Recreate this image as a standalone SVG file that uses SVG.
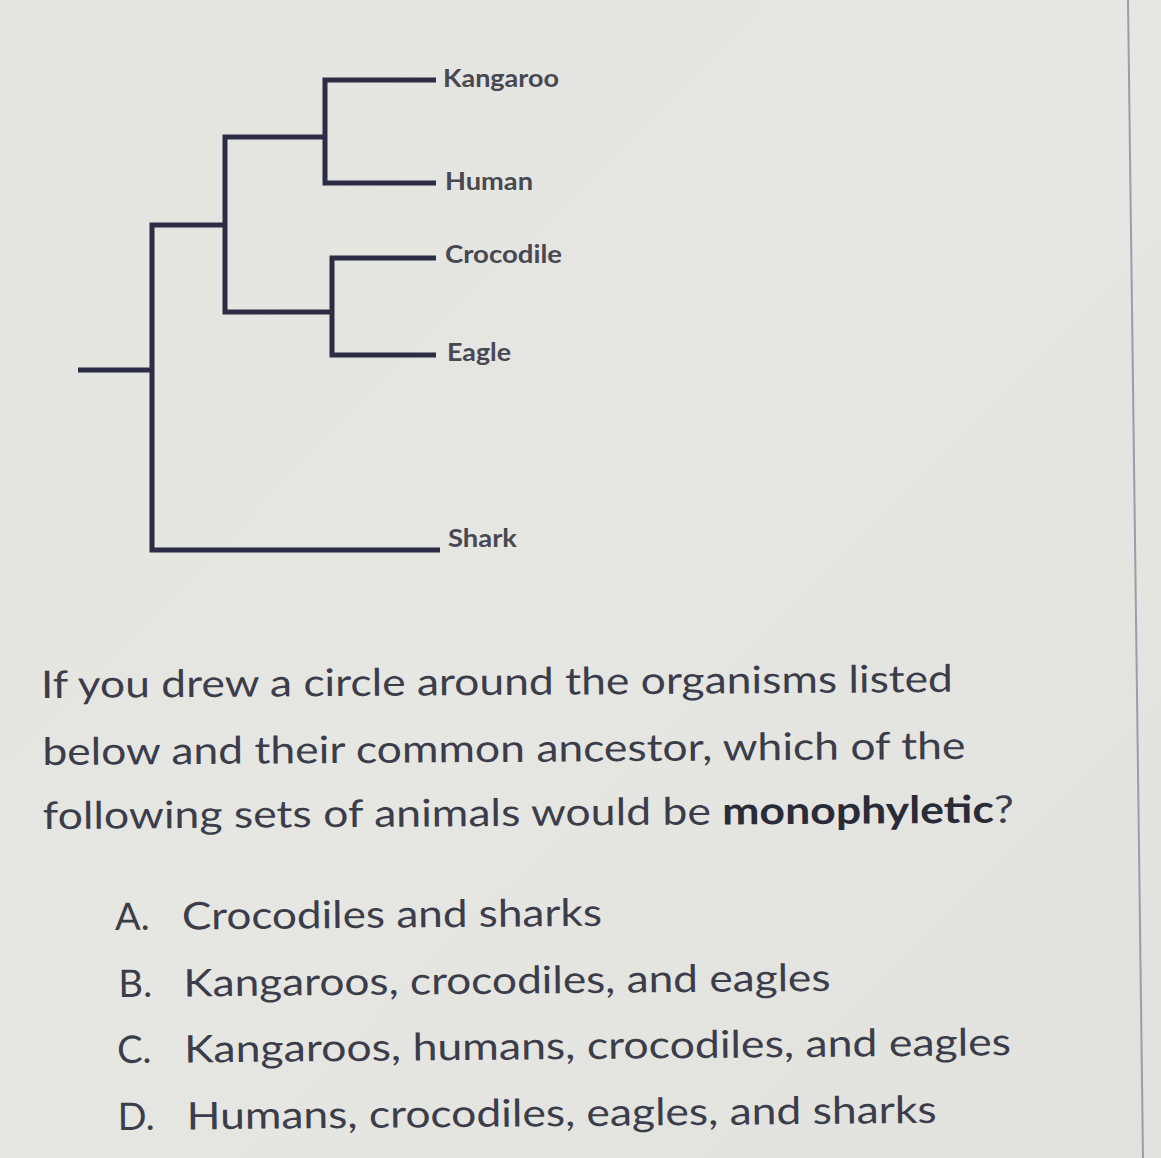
<svg xmlns="http://www.w3.org/2000/svg" width="1161" height="1158" viewBox="0 0 1161 1158">
<defs>
<linearGradient id="bg" x1="0" y1="0" x2="1" y2="1">
<stop offset="0" stop-color="#e3e3e0"/>
<stop offset="0.5" stop-color="#e6e6e3"/>
<stop offset="1" stop-color="#e1e1de"/>
</linearGradient>
<style>
.br{fill:none;stroke:#2c2d44;stroke-width:5;stroke-linejoin:miter;stroke-linecap:butt}
.lb{font-family:Lato,"Open Sans","Liberation Sans",sans-serif;font-weight:700;font-size:25px;fill:#474852}
.q{font-family:Lato,"Open Sans","Liberation Sans",sans-serif;font-size:38px;fill:#3c3d4a}
.qb{font-weight:700;fill:#2a2b38}
</style>
</defs>
<rect x="0" y="0" width="1161" height="1158" fill="url(#bg)"/>
<line x1="1128" y1="0" x2="1143" y2="1158" stroke="#9c9cab" stroke-width="2"/>

<g id="connectors">
<path class="br" d="M78 370 H152"/>
<path class="br" d="M225 225 H152 V550 H440"/>
<path class="br" d="M325 137 H225 V312 H332"/>
<path class="br" d="M436 80 H325 V183 H436"/>
<path class="br" d="M436 258 H332 V355 H436"/>
</g>

<g id="node-kangaroo"><text class="lb" x="443" y="87" textLength="116" lengthAdjust="spacingAndGlyphs">Kangaroo</text></g>
<g id="node-human"><text class="lb" x="445" y="190" textLength="88" lengthAdjust="spacingAndGlyphs">Human</text></g>
<g id="node-crocodile"><text class="lb" x="445" y="263" textLength="117" lengthAdjust="spacingAndGlyphs">Crocodile</text></g>
<g id="node-eagle"><text class="lb" x="447" y="361" textLength="64" lengthAdjust="spacingAndGlyphs">Eagle</text></g>
<g id="node-shark"><text class="lb" x="448" y="547" textLength="69" lengthAdjust="spacingAndGlyphs">Shark</text></g>

<g id="question" transform="rotate(-0.38 40 698)">
<text class="q" x="41" y="698" textLength="912" lengthAdjust="spacingAndGlyphs">If you drew a circle around the organisms listed</text>
<text class="q" x="42" y="765" textLength="923" lengthAdjust="spacingAndGlyphs">below and their common ancestor, which of the</text>
<text class="q" x="42" y="829" textLength="971" lengthAdjust="spacingAndGlyphs">following sets of animals would be <tspan class="qb">monophyletic</tspan>?</text>
</g>

<g id="options" transform="rotate(-0.5 115 930)">
<g id="option-a"><text class="q" x="115" y="930">A.</text><text class="q" x="182" y="930" textLength="420" lengthAdjust="spacingAndGlyphs">Crocodiles and sharks</text></g>
<g id="option-b"><text class="q" x="118" y="997">B.</text><text class="q" x="183" y="997" textLength="647" lengthAdjust="spacingAndGlyphs">Kangaroos, crocodiles, and eagles</text></g>
<g id="option-c"><text class="q" x="116" y="1063">C.</text><text class="q" x="183" y="1063" textLength="827" lengthAdjust="spacingAndGlyphs">Kangaroos, humans, crocodiles, and eagles</text></g>
<g id="option-d"><text class="q" x="116" y="1130">D.</text><text class="q" x="185" y="1130" textLength="750" lengthAdjust="spacingAndGlyphs">Humans, crocodiles, eagles, and sharks</text></g>
</g>
</svg>
